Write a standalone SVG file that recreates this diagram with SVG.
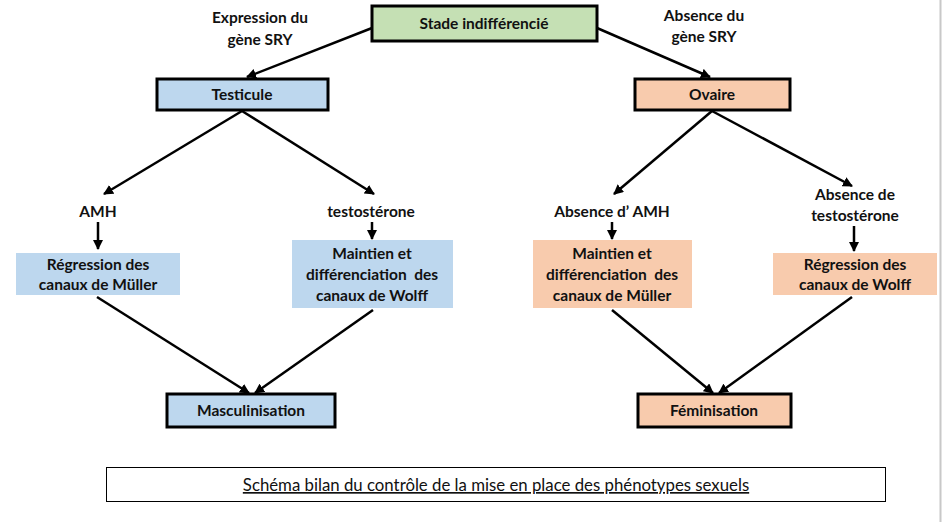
<svg xmlns="http://www.w3.org/2000/svg" width="942" height="522" viewBox="0 0 942 522">
<style>
.t{font-family:Lato,"Open Sans","Liberation Sans",sans-serif;font-weight:bold;font-size:15.5px;fill:#111;text-anchor:middle;white-space:pre}
.box{stroke:#000;stroke-width:3}
.blue{fill:#bdd7ee}
.pink{fill:#f8cbad}
.green{fill:#c5e0b4}
.ln{stroke:#000;stroke-width:2.5;fill:none}
.cap{font-family:Lato,"Open Sans","Liberation Sans",sans-serif;font-size:16.8px;fill:#111;text-anchor:middle;text-decoration:underline}
</style>
<defs>
<marker id="ah" viewBox="0 0 10 10" refX="9" refY="5" markerWidth="4" markerHeight="4" orient="auto" markerUnits="strokeWidth">
<path d="M0,0 L10,5 L0,10 z" fill="#000"/>
</marker>
</defs>
<rect x="0" y="0" width="942" height="522" fill="#fff"/>
<line x1="940.5" y1="0" x2="940.5" y2="522" stroke="#c8c8c8" stroke-width="2"/>
<g id="connectors">
<line class="ln" x1="372" y1="28" x2="247" y2="77" marker-end="url(#ah)"/>
<line class="ln" x1="597" y1="28" x2="710" y2="77" marker-end="url(#ah)"/>
<line class="ln" x1="242" y1="111" x2="104" y2="194" marker-end="url(#ah)"/>
<line class="ln" x1="242" y1="111" x2="374" y2="194" marker-end="url(#ah)"/>
<line class="ln" x1="98" y1="222" x2="98" y2="249" marker-end="url(#ah)"/>
<line class="ln" x1="372" y1="222" x2="372" y2="239" marker-end="url(#ah)"/>
<line class="ln" x1="97" y1="297" x2="249" y2="393" marker-end="url(#ah)"/>
<line class="ln" x1="373" y1="310" x2="255" y2="393" marker-end="url(#ah)"/>
<line class="ln" x1="712" y1="111" x2="614" y2="194" marker-end="url(#ah)"/>
<line class="ln" x1="712" y1="111" x2="852" y2="186" marker-end="url(#ah)"/>
<line class="ln" x1="612" y1="222" x2="612" y2="239" marker-end="url(#ah)"/>
<line class="ln" x1="854" y1="226" x2="854" y2="251" marker-end="url(#ah)"/>
<line class="ln" x1="612" y1="310" x2="713" y2="393" marker-end="url(#ah)"/>
<line class="ln" x1="852" y1="297" x2="719" y2="393" marker-end="url(#ah)"/>
</g>
<g id="label-expression">
<text class="t" x="260" y="23">Expression du</text>
<text class="t" x="260" y="45">gène SRY</text>
</g>
<g id="label-absence-sry">
<text class="t" x="704" y="21">Absence du</text>
<text class="t" x="704" y="42">gène SRY</text>
</g>
<g id="stade">
<rect class="box green" x="372" y="6" width="225" height="35"/>
<text class="t" x="484" y="29">Stade indifférencié</text>
</g>
<g id="testicule">
<rect class="box blue" x="157" y="79" width="171" height="31"/>
<text class="t" x="242" y="100">Testicule</text>
</g>
<g id="ovaire">
<rect class="box pink" x="635" y="79" width="155" height="31"/>
<text class="t" x="712" y="100">Ovaire</text>
</g>
<g id="amh">
<text class="t" x="98" y="217">AMH</text>
</g>
<g id="testosterone">
<text class="t" x="371" y="217">testostérone</text>
</g>
<g id="absence-amh">
<text class="t" x="612" y="217">Absence d’ AMH</text>
</g>
<g id="absence-testosterone">
<text class="t" x="855" y="200">Absence de</text>
<text class="t" x="855" y="221">testostérone</text>
</g>
<g id="regression-muller">
<rect class="blue" x="16" y="253" width="164" height="42"/>
<text class="t" x="98" y="270">Régression des</text>
<text class="t" x="98" y="290">canaux de Müller</text>
</g>
<g id="maintien-wolff">
<rect class="blue" x="292" y="240" width="161" height="68"/>
<text class="t" x="372" y="259">Maintien et</text>
<text class="t" x="372" y="280" xml:space="preserve">différenciation  des</text>
<text class="t" x="372" y="301">canaux de Wolff</text>
</g>
<g id="maintien-muller">
<rect class="pink" x="533" y="240" width="159" height="68"/>
<text class="t" x="612" y="259">Maintien et</text>
<text class="t" x="612" y="280" xml:space="preserve">différenciation  des</text>
<text class="t" x="612" y="301">canaux de Müller</text>
</g>
<g id="regression-wolff">
<rect class="pink" x="773" y="253" width="164" height="42"/>
<text class="t" x="855" y="270">Régression des</text>
<text class="t" x="855" y="290">canaux de Wolff</text>
</g>
<g id="masculinisation">
<rect class="box blue" x="167" y="394" width="168" height="33"/>
<text class="t" x="251" y="416">Masculinisation</text>
</g>
<g id="feminisation">
<rect class="box pink" x="638" y="394" width="153" height="33"/>
<text class="t" x="714" y="416">Féminisation</text>
</g>
<g id="caption">
<rect x="106.5" y="467.5" width="779" height="34" fill="#fff" stroke="#000" stroke-width="1"/>
<text class="cap" x="496" y="491">Schéma bilan du contrôle de la mise en place des phénotypes sexuels</text>
</g>
</svg>
